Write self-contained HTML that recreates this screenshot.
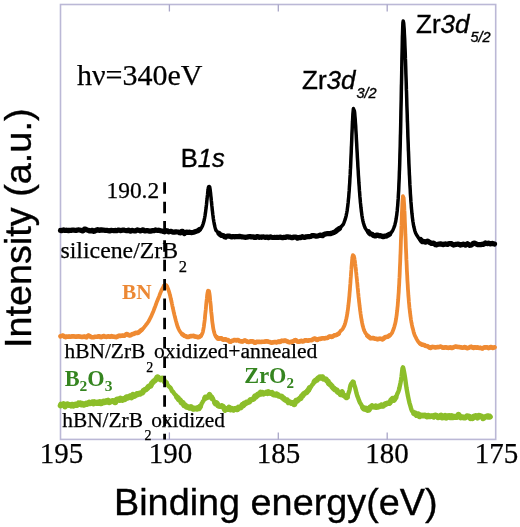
<!DOCTYPE html>
<html><head><meta charset="utf-8"><title>XPS spectra</title>
<style>
html,body{margin:0;padding:0;background:#fff;}
body{width:520px;height:527px;overflow:hidden;}
svg{display:block;}
</style></head>
<body>
<svg width="520" height="527" viewBox="0 0 520 527">
<rect x="0" y="0" width="520" height="527" fill="#fff"/>
<rect x="60.5" y="4.5" width="435.2" height="434.9" fill="none" stroke="#bbb8d6" stroke-width="1.6"/>
<g stroke="#a9a6c8" stroke-width="1.3">
<line x1="169.4" y1="4.5" x2="169.4" y2="11.5"/><line x1="278.3" y1="4.5" x2="278.3" y2="11.5"/><line x1="387.2" y1="4.5" x2="387.2" y2="11.5"/>
<line x1="169.4" y1="432.4" x2="169.4" y2="439.4"/><line x1="278.3" y1="432.4" x2="278.3" y2="439.4"/><line x1="387.2" y1="432.4" x2="387.2" y2="439.4"/>
</g>

<path d="M60.5 405.6L61.0 404.4L61.5 404.5L62.0 404.8L62.5 404.7L63.0 404.3L63.5 403.9L64.0 404.2L64.5 405.5L65.0 406.7L65.5 406.0L66.0 404.8L66.5 404.6L67.0 404.2L67.5 404.1L68.0 404.6L68.5 405.0L69.0 405.2L69.5 405.3L70.0 405.0L70.5 405.2L71.0 405.8L71.5 405.4L72.0 404.6L72.5 404.6L73.0 405.5L73.5 405.8L74.0 405.0L74.5 404.7L75.0 404.8L75.5 404.3L76.0 404.4L76.5 405.1L77.0 405.1L77.5 404.9L78.0 404.0L78.5 403.3L79.0 403.9L79.5 403.6L80.0 403.2L80.5 404.2L81.0 404.6L81.5 403.8L82.0 403.5L82.5 403.8L83.0 404.5L83.5 405.0L84.0 404.9L84.5 404.6L85.0 404.6L85.5 403.8L86.0 403.4L86.5 404.0L87.0 404.2L87.5 403.6L88.0 403.3L88.5 402.9L89.0 402.5L89.5 403.4L90.0 403.5L90.5 402.7L91.0 402.7L91.5 403.0L92.0 402.9L92.5 402.1L93.0 402.3L93.5 403.6L94.0 403.3L94.5 402.0L95.0 402.2L95.5 402.8L96.0 403.1L96.5 403.2L97.0 402.7L97.5 402.3L98.0 402.6L98.5 403.1L99.0 402.9L99.5 401.9L100.0 401.9L100.5 403.1L101.0 403.5L101.5 403.3L102.0 403.2L102.5 402.6L103.0 401.7L103.5 401.3L104.0 401.8L104.5 402.2L105.0 401.4L105.5 401.1L106.0 401.6L106.5 402.0L107.0 401.8L107.5 400.7L108.0 400.4L108.5 401.5L109.0 402.4L109.5 402.3L110.0 401.6L110.5 401.3L111.0 401.3L111.5 401.4L112.0 401.3L112.5 400.8L113.0 400.8L113.5 401.0L114.0 401.1L114.5 401.6L115.0 402.4L115.5 402.4L116.0 401.0L116.5 399.5L117.0 399.3L117.5 399.8L118.0 399.5L118.5 399.1L119.0 400.0L119.5 400.2L120.0 398.8L120.5 398.3L121.0 398.6L121.5 399.1L122.0 399.9L122.5 400.1L123.0 399.3L123.5 398.9L124.0 399.1L124.5 399.4L125.0 399.3L125.5 398.5L126.0 397.5L126.5 397.0L127.0 397.3L127.5 398.0L128.0 397.8L128.5 396.8L129.0 396.6L129.5 396.6L130.0 396.0L130.5 395.8L131.0 396.9L131.5 397.5L132.0 396.4L132.5 395.2L133.0 394.6L133.5 394.8L134.0 395.7L134.5 396.1L135.0 395.7L135.5 395.4L136.0 395.3L136.5 394.7L137.0 393.9L137.5 394.1L138.0 394.3L138.5 393.9L139.0 393.5L139.5 393.4L140.0 393.6L140.5 393.8L141.0 393.2L141.5 392.8L142.0 392.8L142.5 392.7L143.0 391.8L143.5 390.6L144.0 390.3L144.5 390.0L145.0 389.6L145.5 389.7L146.0 389.5L146.5 388.9L147.0 388.5L147.5 388.1L148.0 387.2L148.5 386.6L149.0 386.3L149.5 386.0L150.0 386.2L150.5 386.0L151.0 385.2L151.5 384.0L152.0 383.0L152.5 382.6L153.0 382.2L153.5 381.4L154.0 380.9L154.5 380.8L155.0 380.5L155.5 379.9L156.0 379.3L156.5 378.4L157.0 377.6L157.5 377.1L158.0 377.2L158.5 378.1L159.0 378.7L159.5 378.7L160.0 379.1L160.5 379.5L161.0 379.1L161.5 378.7L162.0 378.3L162.5 378.4L163.0 379.1L163.5 379.6L164.0 380.5L164.5 381.5L165.0 382.2L165.5 382.4L166.0 382.7L166.5 383.4L167.0 384.0L167.5 384.6L168.0 385.4L168.5 386.0L169.0 386.5L169.5 387.0L170.0 387.4L170.5 387.9L171.0 388.7L171.5 389.8L172.0 391.1L172.5 391.7L173.0 391.7L173.5 392.5L174.0 393.3L174.5 393.9L175.0 394.7L175.5 395.0L176.0 395.3L176.5 396.2L177.0 397.2L177.5 397.6L178.0 398.1L178.5 399.1L179.0 399.7L179.5 399.7L180.0 400.1L180.5 400.8L181.0 401.7L181.5 402.7L182.0 402.8L182.5 402.5L183.0 402.9L183.5 404.2L184.0 405.3L184.5 405.1L185.0 405.1L185.5 405.6L186.0 406.3L186.5 406.9L187.0 406.7L187.5 406.8L188.0 407.2L188.5 407.1L189.0 407.2L189.5 408.0L190.0 407.9L190.5 407.3L191.0 406.9L191.5 407.2L192.0 408.2L192.5 408.8L193.0 408.9L193.5 409.0L194.0 408.7L194.5 408.4L195.0 408.6L195.5 408.5L196.0 408.3L196.5 408.6L197.0 408.8L197.5 408.1L198.0 407.7L198.5 408.2L199.0 408.4L199.5 407.5L200.0 406.8L200.5 406.6L201.0 405.6L201.5 404.1L202.0 403.1L202.5 402.2L203.0 401.2L203.5 400.7L204.0 399.9L204.5 398.9L205.0 398.1L205.5 397.2L206.0 397.3L206.5 397.6L207.0 397.2L207.5 397.1L208.0 396.9L208.5 396.6L209.0 395.7L209.5 394.8L210.0 395.7L210.5 396.6L211.0 396.8L211.5 397.3L212.0 398.3L212.5 398.6L213.0 398.9L213.5 400.0L214.0 401.2L214.5 401.9L215.0 402.9L215.5 403.6L216.0 403.4L216.5 403.0L217.0 403.4L217.5 404.5L218.0 405.5L218.5 405.9L219.0 406.0L219.5 406.0L220.0 406.2L220.5 406.3L221.0 406.1L221.5 405.8L222.0 405.9L222.5 406.4L223.0 406.6L223.5 407.2L224.0 408.0L224.5 409.0L225.0 410.1L225.5 409.6L226.0 408.7L226.5 409.1L227.0 409.1L227.5 409.0L228.0 409.2L228.5 408.1L229.0 407.5L229.5 408.6L230.0 409.5L230.5 409.7L231.0 408.9L231.5 408.7L232.0 409.4L232.5 409.0L233.0 409.2L233.5 409.9L234.0 409.3L234.5 408.8L235.0 409.0L235.5 408.9L236.0 408.5L236.5 408.7L237.0 409.4L237.5 409.5L238.0 408.3L238.5 407.5L239.0 407.8L239.5 407.7L240.0 407.6L240.5 407.7L241.0 407.5L241.5 406.6L242.0 405.6L242.5 404.6L243.0 404.9L243.5 405.3L244.0 404.5L244.5 403.4L245.0 403.2L245.5 403.5L246.0 403.1L246.5 402.4L247.0 402.6L247.5 402.6L248.0 402.1L248.5 401.8L249.0 401.9L249.5 401.4L250.0 400.4L250.5 399.8L251.0 399.8L251.5 399.7L252.0 399.4L252.5 399.3L253.0 399.2L253.5 399.0L254.0 398.4L254.5 397.1L255.0 396.2L255.5 396.5L256.0 396.7L256.5 396.2L257.0 395.6L257.5 394.9L258.0 394.2L258.5 394.1L259.0 394.5L259.5 394.0L260.0 392.9L260.5 392.4L261.0 393.1L261.5 393.8L262.0 393.2L262.5 392.7L263.0 393.4L263.5 393.8L264.0 393.4L264.5 393.3L265.0 393.2L265.5 393.0L266.0 392.6L266.5 392.4L267.0 392.9L267.5 393.3L268.0 392.9L268.5 391.9L269.0 392.4L269.5 392.9L270.0 392.5L270.5 392.7L271.0 393.2L271.5 393.0L272.0 392.7L272.5 393.2L273.0 394.2L273.5 394.6L274.0 394.3L274.5 394.3L275.0 394.8L275.5 394.9L276.0 394.2L276.5 394.1L277.0 394.6L277.5 394.7L278.0 395.0L278.5 395.8L279.0 396.0L279.5 396.0L280.0 396.2L280.5 396.2L281.0 396.5L281.5 396.4L282.0 396.8L282.5 397.9L283.0 398.1L283.5 398.0L284.0 398.6L284.5 399.3L285.0 399.6L285.5 400.0L286.0 400.4L286.5 400.1L287.0 400.0L287.5 400.8L288.0 401.8L288.5 402.5L289.0 402.5L289.5 402.1L290.0 402.1L290.5 402.5L291.0 402.7L291.5 403.2L292.0 403.3L292.5 402.7L293.0 402.7L293.5 403.3L294.0 404.4L294.5 404.3L295.0 402.9L295.5 401.5L296.0 400.7L296.5 401.1L297.0 401.0L297.5 400.5L298.0 400.2L298.5 399.4L299.0 399.1L299.5 398.8L300.0 398.3L300.5 398.4L301.0 397.9L301.5 396.5L302.0 395.8L302.5 395.9L303.0 395.2L303.5 394.2L304.0 393.8L304.5 393.4L305.0 393.1L305.5 392.8L306.0 392.5L306.5 392.4L307.0 391.8L307.5 391.0L308.0 390.5L308.5 390.0L309.0 388.9L309.5 387.9L310.0 387.6L310.5 387.3L311.0 386.8L311.5 385.9L312.0 385.0L312.5 384.6L313.0 384.0L313.5 383.0L314.0 382.1L314.5 381.5L315.0 380.9L315.5 380.5L316.0 380.1L316.5 380.1L317.0 380.0L317.5 379.0L318.0 378.3L318.5 378.3L319.0 378.0L319.5 377.2L320.0 377.0L320.5 377.6L321.0 377.9L321.5 377.5L322.0 377.0L322.5 377.1L323.0 378.2L323.5 378.9L324.0 378.9L324.5 378.9L325.0 379.0L325.5 379.0L326.0 379.4L326.5 380.1L327.0 380.8L327.5 381.1L328.0 381.5L328.5 382.9L329.0 383.7L329.5 383.8L330.0 384.2L330.5 384.9L331.0 385.2L331.5 385.6L332.0 386.5L332.5 387.2L333.0 387.8L333.5 388.2L334.0 388.4L334.5 389.1L335.0 389.7L335.5 389.7L336.0 389.8L336.5 390.0L337.0 390.4L337.5 391.7L338.0 392.3L338.5 392.4L339.0 392.7L339.5 392.5L340.0 393.1L340.5 394.3L341.0 394.0L341.5 392.3L342.0 391.9L342.5 393.5L343.0 395.0L343.5 395.1L344.0 395.4L344.5 395.8L345.0 395.8L345.5 396.4L346.0 397.2L346.5 397.5L347.0 397.2L347.5 396.4L348.0 395.0L348.5 393.2L349.0 391.8L349.5 390.0L350.0 387.5L350.5 385.2L351.0 384.2L351.5 384.0L352.0 383.8L352.5 383.2L353.0 382.2L353.5 382.8L354.0 384.1L354.5 385.6L355.0 387.2L355.5 388.9L356.0 391.0L356.5 393.2L357.0 395.0L357.5 396.4L358.0 397.6L358.5 399.0L359.0 400.4L359.5 401.7L360.0 402.8L360.5 403.5L361.0 404.2L361.5 405.2L362.0 406.3L362.5 407.1L363.0 407.7L363.5 408.4L364.0 408.8L364.5 408.4L365.0 408.4L365.5 409.2L366.0 409.3L366.5 408.8L367.0 409.7L367.5 410.1L368.0 409.3L368.5 409.2L369.0 409.7L369.5 408.8L370.0 407.4L370.5 407.2L371.0 407.2L371.5 406.4L372.0 405.9L372.5 406.5L373.0 406.7L373.5 406.6L374.0 406.9L374.5 406.9L375.0 406.4L375.5 406.1L376.0 406.8L376.5 407.2L377.0 406.9L377.5 407.0L378.0 406.6L378.5 406.4L379.0 406.6L379.5 406.3L380.0 406.2L380.5 406.1L381.0 405.6L381.5 405.0L382.0 405.2L382.5 406.0L383.0 405.9L383.5 405.4L384.0 405.2L384.5 404.9L385.0 404.1L385.5 403.8L386.0 404.0L386.5 403.7L387.0 403.4L387.5 403.3L388.0 403.0L388.5 403.0L389.0 403.3L389.5 403.1L390.0 402.4L390.5 401.4L391.0 400.3L391.5 399.7L392.0 399.2L392.5 398.7L393.0 398.9L393.5 399.8L394.0 400.1L394.5 399.3L395.0 398.3L395.5 397.8L396.0 397.3L396.5 396.2L397.0 394.6L397.5 393.4L398.0 392.5L398.5 391.2L399.0 389.6L399.5 387.6L400.0 385.3L400.5 382.9L401.0 380.2L401.5 377.0L402.0 372.7L402.5 368.3L403.0 367.4L403.5 369.2L404.0 371.7L404.5 374.5L405.0 377.4L405.5 380.8L406.0 384.6L406.5 388.0L407.0 390.8L407.5 393.5L408.0 396.3L408.5 398.6L409.0 400.9L409.5 403.1L410.0 404.7L410.5 406.4L411.0 408.2L411.5 409.7L412.0 411.0L412.5 411.4L413.0 411.6L413.5 412.4L414.0 413.5L414.5 413.7L415.0 413.2L415.5 413.4L416.0 414.5L416.5 415.1L417.0 414.5L417.5 414.6L418.0 414.9L418.5 414.1L419.0 414.9L419.5 416.5L420.0 416.1L420.5 415.3L421.0 415.4L421.5 415.7L422.0 415.4L422.5 415.6L423.0 415.7L423.5 415.5L424.0 415.7L424.5 415.2L425.0 415.2L425.5 415.7L426.0 415.9L426.5 416.4L427.0 416.6L427.5 416.0L428.0 415.6L428.5 415.6L429.0 416.0L429.5 416.5L430.0 416.4L430.5 416.4L431.0 416.1L431.5 416.0L432.0 416.2L432.5 416.0L433.0 416.5L433.5 416.9L434.0 416.2L434.5 415.6L435.0 415.4L435.5 415.3L436.0 415.4L436.5 415.7L437.0 416.1L437.5 416.9L438.0 417.5L438.5 417.3L439.0 417.0L439.5 416.7L440.0 416.2L440.5 415.6L441.0 415.4L441.5 416.6L442.0 417.7L442.5 417.3L443.0 417.0L443.5 417.4L444.0 416.8L444.5 415.9L445.0 415.6L445.5 415.8L446.0 416.9L446.5 417.8L447.0 417.0L447.5 416.0L448.0 416.1L448.5 416.1L449.0 415.9L449.5 416.7L450.0 417.4L450.5 417.4L451.0 417.0L451.5 415.9L452.0 416.0L452.5 417.5L453.0 417.5L453.5 416.5L454.0 416.6L454.5 417.2L455.0 417.3L455.5 417.1L456.0 416.8L456.5 417.0L457.0 417.1L457.5 416.5L458.0 415.1L458.5 414.6L459.0 415.3L459.5 415.9L460.0 416.9L460.5 417.5L461.0 417.2L461.5 416.9L462.0 417.3L462.5 417.5L463.0 417.2L463.5 417.5L464.0 417.7L464.5 417.8L465.0 417.7L465.5 417.3L466.0 417.1L466.5 416.5L467.0 416.0L467.5 416.3L468.0 416.7L468.5 416.6L469.0 416.4L469.5 416.7L470.0 417.8L470.5 418.4L471.0 418.1L471.5 418.1L472.0 418.4L472.5 418.4L473.0 417.2L473.5 416.6L474.0 417.4L474.5 417.1L475.0 416.2L475.5 415.9L476.0 415.9L476.5 416.2L477.0 416.8L477.5 417.7L478.0 417.3L478.5 415.8L479.0 415.5L479.5 415.7L480.0 415.7L480.5 416.4L481.0 416.7L481.5 416.4L482.0 416.6L482.5 417.5L483.0 418.4L483.5 418.2L484.0 417.7L484.5 417.3L485.0 416.9L485.5 416.8L486.0 416.8L486.5 416.8L487.0 416.2L487.5 416.1L488.0 416.9L488.5 416.9L489.0 416.2L489.5 416.3L490.0 416.9" fill="none" stroke="#8cbe2a" stroke-width="4.4" stroke-linejoin="round" stroke-linecap="round"/>
<path d="M60.5 405.6L61.0 404.4L61.5 404.5L62.0 404.8L62.5 404.7L63.0 404.3L63.5 403.9L64.0 404.2L64.5 405.5L65.0 406.7L65.5 406.0L66.0 404.8L66.5 404.6L67.0 404.2L67.5 404.1L68.0 404.6L68.5 405.0L69.0 405.2L69.5 405.3L70.0 405.0L70.5 405.2L71.0 405.8L71.5 405.4L72.0 404.6L72.5 404.6L73.0 405.5L73.5 405.8L74.0 405.0L74.5 404.7L75.0 404.8L75.5 404.3L76.0 404.4L76.5 405.1L77.0 405.1L77.5 404.9L78.0 404.0L78.5 403.3L79.0 403.9L79.5 403.6L80.0 403.2L80.5 404.2L81.0 404.6L81.5 403.8L82.0 403.5L82.5 403.8L83.0 404.5L83.5 405.0L84.0 404.9L84.5 404.6L85.0 404.6L85.5 403.8L86.0 403.4L86.5 404.0L87.0 404.2L87.5 403.6L88.0 403.3L88.5 402.9L89.0 402.5L89.5 403.4L90.0 403.5L90.5 402.7L91.0 402.7L91.5 403.0L92.0 402.9L92.5 402.1L93.0 402.3L93.5 403.6L94.0 403.3L94.5 402.0L95.0 402.2L95.5 402.8L96.0 403.1L96.5 403.2L97.0 402.7L97.5 402.3L98.0 402.6L98.5 403.1L99.0 402.9L99.5 401.9L100.0 401.9L100.5 403.1L101.0 403.5L101.5 403.3L102.0 403.2L102.5 402.6L103.0 401.7L103.5 401.3L104.0 401.8L104.5 402.2L105.0 401.4L105.5 401.1L106.0 401.6L106.5 402.0L107.0 401.8L107.5 400.7L108.0 400.4L108.5 401.5L109.0 402.4L109.5 402.3L110.0 401.6L110.5 401.3L111.0 401.3L111.5 401.4L112.0 401.3L112.5 400.8L113.0 400.8L113.5 401.0L114.0 401.1L114.5 401.6L115.0 402.4L115.5 402.4L116.0 401.0L116.5 399.5L117.0 399.3L117.5 399.8L118.0 399.5L118.5 399.1L119.0 400.0L119.5 400.2L120.0 398.8L120.5 398.3L121.0 398.6L121.5 399.1L122.0 399.9L122.5 400.1L123.0 399.3L123.5 398.9L124.0 399.1L124.5 399.4L125.0 399.3L125.5 398.5L126.0 397.5L126.5 397.0L127.0 397.3L127.5 398.0L128.0 397.8L128.5 396.8L129.0 396.6L129.5 396.6L130.0 396.0L130.5 395.8L131.0 396.9L131.5 397.5L132.0 396.4L132.5 395.2L133.0 394.6L133.5 394.8L134.0 395.7L134.5 396.1L135.0 395.7L135.5 395.4L136.0 395.3L136.5 394.7L137.0 393.9L137.5 394.1L138.0 394.3L138.5 393.9L139.0 393.5L139.5 393.4L140.0 393.6L140.5 393.8L141.0 393.2L141.5 392.8L142.0 392.8L142.5 392.7L143.0 391.8L143.5 390.6L144.0 390.3L144.5 390.0L145.0 389.6L145.5 389.7L146.0 389.5L146.5 388.9L147.0 388.5L147.5 388.1L148.0 387.2L148.5 386.6L149.0 386.3L149.5 386.0L150.0 386.2L150.5 386.0L151.0 385.2L151.5 384.0L152.0 383.0L152.5 382.6L153.0 382.2L153.5 381.4L154.0 380.9L154.5 380.8L155.0 380.5L155.5 379.9L156.0 379.3L156.5 378.4L157.0 377.6L157.5 377.1L158.0 377.2L158.5 378.1L159.0 378.7L159.5 378.7L160.0 379.1L160.5 379.5L161.0 379.1L161.5 378.7L162.0 378.3L162.5 378.4L163.0 379.1L163.5 379.6 M164.5 381.5L165.0 382.2L165.5 382.4L166.0 382.7 M177.0 397.2L177.5 397.6L178.0 398.1L178.5 399.1L179.0 399.7L179.5 399.7L180.0 400.1L180.5 400.8L181.0 401.7L181.5 402.7L182.0 402.8L182.5 402.5L183.0 402.9L183.5 404.2L184.0 405.3L184.5 405.1L185.0 405.1L185.5 405.6L186.0 406.3L186.5 406.9L187.0 406.7L187.5 406.8L188.0 407.2L188.5 407.1L189.0 407.2L189.5 408.0L190.0 407.9L190.5 407.3L191.0 406.9L191.5 407.2L192.0 408.2L192.5 408.8L193.0 408.9L193.5 409.0L194.0 408.7L194.5 408.4L195.0 408.6L195.5 408.5L196.0 408.3L196.5 408.6L197.0 408.8L197.5 408.1L198.0 407.7L198.5 408.2L199.0 408.4L199.5 407.5L200.0 406.8 M205.0 398.1L205.5 397.2L206.0 397.3L206.5 397.6L207.0 397.2L207.5 397.1L208.0 396.9L208.5 396.6L209.0 395.7L209.5 394.8L210.0 395.7L210.5 396.6L211.0 396.8L211.5 397.3L212.0 398.3 M215.0 402.9L215.5 403.6L216.0 403.4L216.5 403.0L217.0 403.4L217.5 404.5L218.0 405.5L218.5 405.9L219.0 406.0L219.5 406.0L220.0 406.2L220.5 406.3L221.0 406.1L221.5 405.8L222.0 405.9L222.5 406.4L223.0 406.6L223.5 407.2L224.0 408.0L224.5 409.0L225.0 410.1L225.5 409.6L226.0 408.7L226.5 409.1L227.0 409.1L227.5 409.0L228.0 409.2L228.5 408.1L229.0 407.5L229.5 408.6L230.0 409.5L230.5 409.7L231.0 408.9L231.5 408.7L232.0 409.4L232.5 409.0L233.0 409.2L233.5 409.9L234.0 409.3L234.5 408.8L235.0 409.0L235.5 408.9L236.0 408.5L236.5 408.7L237.0 409.4L237.5 409.5L238.0 408.3L238.5 407.5L239.0 407.8L239.5 407.7L240.0 407.6L240.5 407.7L241.0 407.5L241.5 406.6L242.0 405.6L242.5 404.6L243.0 404.9L243.5 405.3L244.0 404.5L244.5 403.4L245.0 403.2L245.5 403.5L246.0 403.1L246.5 402.4L247.0 402.6L247.5 402.6L248.0 402.1L248.5 401.8L249.0 401.9L249.5 401.4L250.0 400.4L250.5 399.8L251.0 399.8L251.5 399.7L252.0 399.4L252.5 399.3L253.0 399.2L253.5 399.0L254.0 398.4L254.5 397.1L255.0 396.2L255.5 396.5L256.0 396.7L256.5 396.2L257.0 395.6L257.5 394.9L258.0 394.2L258.5 394.1L259.0 394.5L259.5 394.0L260.0 392.9L260.5 392.4L261.0 393.1L261.5 393.8L262.0 393.2L262.5 392.7L263.0 393.4L263.5 393.8L264.0 393.4L264.5 393.3L265.0 393.2L265.5 393.0L266.0 392.6L266.5 392.4L267.0 392.9L267.5 393.3L268.0 392.9L268.5 391.9L269.0 392.4L269.5 392.9L270.0 392.5L270.5 392.7L271.0 393.2L271.5 393.0L272.0 392.7L272.5 393.2L273.0 394.2L273.5 394.6L274.0 394.3L274.5 394.3L275.0 394.8L275.5 394.9L276.0 394.2L276.5 394.1L277.0 394.6L277.5 394.7L278.0 395.0L278.5 395.8L279.0 396.0L279.5 396.0L280.0 396.2L280.5 396.2L281.0 396.5L281.5 396.4L282.0 396.8L282.5 397.9L283.0 398.1L283.5 398.0L284.0 398.6L284.5 399.3L285.0 399.6L285.5 400.0L286.0 400.4L286.5 400.1L287.0 400.0L287.5 400.8L288.0 401.8L288.5 402.5L289.0 402.5L289.5 402.1L290.0 402.1L290.5 402.5L291.0 402.7L291.5 403.2L292.0 403.3L292.5 402.7L293.0 402.7L293.5 403.3L294.0 404.4L294.5 404.3L295.0 402.9L295.5 401.5L296.0 400.7L296.5 401.1L297.0 401.0L297.5 400.5L298.0 400.2L298.5 399.4L299.0 399.1L299.5 398.8L300.0 398.3L300.5 398.4L301.0 397.9L301.5 396.5L302.0 395.8L302.5 395.9L303.0 395.2L303.5 394.2L304.0 393.8L304.5 393.4L305.0 393.1L305.5 392.8L306.0 392.5L306.5 392.4L307.0 391.8L307.5 391.0L308.0 390.5L308.5 390.0L309.0 388.9L309.5 387.9 M314.5 381.5L315.0 380.9L315.5 380.5L316.0 380.1L316.5 380.1L317.0 380.0L317.5 379.0L318.0 378.3L318.5 378.3L319.0 378.0L319.5 377.2L320.0 377.0L320.5 377.6L321.0 377.9L321.5 377.5L322.0 377.0L322.5 377.1L323.0 378.2L323.5 378.9L324.0 378.9L324.5 378.9L325.0 379.0L325.5 379.0L326.0 379.4L326.5 380.1L327.0 380.8L327.5 381.1L328.0 381.5L328.5 382.9L329.0 383.7L329.5 383.8L330.0 384.2L330.5 384.9L331.0 385.2L331.5 385.6L332.0 386.5L332.5 387.2L333.0 387.8L333.5 388.2L334.0 388.4L334.5 389.1L335.0 389.7L335.5 389.7L336.0 389.8L336.5 390.0L337.0 390.4L337.5 391.7L338.0 392.3L338.5 392.4L339.0 392.7L339.5 392.5L340.0 393.1L340.5 394.3L341.0 394.0L341.5 392.3L342.0 391.9L342.5 393.5L343.0 395.0L343.5 395.1L344.0 395.4L344.5 395.8L345.0 395.8L345.5 396.4L346.0 397.2L346.5 397.5L347.0 397.2 M352.0 383.8L352.5 383.2L353.0 382.2 M363.0 407.7L363.5 408.4L364.0 408.8L364.5 408.4L365.0 408.4L365.5 409.2L366.0 409.3L366.5 408.8L367.0 409.7L367.5 410.1L368.0 409.3L368.5 409.2L369.0 409.7L369.5 408.8L370.0 407.4L370.5 407.2L371.0 407.2L371.5 406.4L372.0 405.9L372.5 406.5L373.0 406.7L373.5 406.6L374.0 406.9L374.5 406.9L375.0 406.4L375.5 406.1L376.0 406.8L376.5 407.2L377.0 406.9L377.5 407.0L378.0 406.6L378.5 406.4L379.0 406.6L379.5 406.3L380.0 406.2L380.5 406.1L381.0 405.6L381.5 405.0L382.0 405.2L382.5 406.0L383.0 405.9L383.5 405.4L384.0 405.2L384.5 404.9L385.0 404.1L385.5 403.8L386.0 404.0L386.5 403.7L387.0 403.4L387.5 403.3L388.0 403.0L388.5 403.0L389.0 403.3L389.5 403.1L390.0 402.4L390.5 401.4L391.0 400.3L391.5 399.7L392.0 399.2L392.5 398.7L393.0 398.9L393.5 399.8L394.0 400.1L394.5 399.3L395.0 398.3L395.5 397.8 M414.0 413.5L414.5 413.7L415.0 413.2L415.5 413.4L416.0 414.5L416.5 415.1L417.0 414.5L417.5 414.6L418.0 414.9L418.5 414.1L419.0 414.9L419.5 416.5L420.0 416.1L420.5 415.3L421.0 415.4L421.5 415.7L422.0 415.4L422.5 415.6L423.0 415.7L423.5 415.5L424.0 415.7L424.5 415.2L425.0 415.2L425.5 415.7L426.0 415.9L426.5 416.4L427.0 416.6L427.5 416.0L428.0 415.6L428.5 415.6L429.0 416.0L429.5 416.5L430.0 416.4L430.5 416.4L431.0 416.1L431.5 416.0L432.0 416.2L432.5 416.0L433.0 416.5L433.5 416.9L434.0 416.2L434.5 415.6L435.0 415.4L435.5 415.3L436.0 415.4L436.5 415.7L437.0 416.1L437.5 416.9L438.0 417.5L438.5 417.3L439.0 417.0L439.5 416.7L440.0 416.2L440.5 415.6L441.0 415.4L441.5 416.6L442.0 417.7L442.5 417.3L443.0 417.0L443.5 417.4L444.0 416.8L444.5 415.9L445.0 415.6L445.5 415.8L446.0 416.9L446.5 417.8L447.0 417.0L447.5 416.0L448.0 416.1L448.5 416.1L449.0 415.9L449.5 416.7L450.0 417.4L450.5 417.4L451.0 417.0L451.5 415.9L452.0 416.0L452.5 417.5L453.0 417.5L453.5 416.5L454.0 416.6L454.5 417.2L455.0 417.3L455.5 417.1L456.0 416.8L456.5 417.0L457.0 417.1L457.5 416.5L458.0 415.1L458.5 414.6L459.0 415.3L459.5 415.9L460.0 416.9L460.5 417.5L461.0 417.2L461.5 416.9L462.0 417.3L462.5 417.5L463.0 417.2L463.5 417.5L464.0 417.7L464.5 417.8L465.0 417.7L465.5 417.3L466.0 417.1L466.5 416.5L467.0 416.0L467.5 416.3L468.0 416.7L468.5 416.6L469.0 416.4L469.5 416.7L470.0 417.8L470.5 418.4L471.0 418.1L471.5 418.1L472.0 418.4L472.5 418.4L473.0 417.2L473.5 416.6L474.0 417.4L474.5 417.1L475.0 416.2L475.5 415.9L476.0 415.9L476.5 416.2L477.0 416.8L477.5 417.7L478.0 417.3L478.5 415.8L479.0 415.5L479.5 415.7L480.0 415.7L480.5 416.4L481.0 416.7L481.5 416.4L482.0 416.6L482.5 417.5L483.0 418.4L483.5 418.2L484.0 417.7L484.5 417.3L485.0 416.9L485.5 416.8L486.0 416.8L486.5 416.8L487.0 416.2L487.5 416.1L488.0 416.9L488.5 416.9L489.0 416.2L489.5 416.3L490.0 416.9" fill="none" stroke="#8cbe2a" stroke-width="5.6" stroke-linejoin="round" stroke-linecap="round"/>
<path d="M60.5 336.3L61.5 336.1L62.5 335.6L63.5 335.7L64.5 336.8L65.5 337.1L66.5 336.6L67.5 336.7L68.5 336.6L69.5 336.5L70.5 336.7L71.5 336.5L72.5 336.2L73.5 336.3L74.5 336.5L75.5 336.7L76.5 336.6L77.5 336.5L78.5 336.4L79.5 336.5L80.5 336.8L81.5 336.9L82.5 336.9L83.5 336.7L84.5 336.5L85.5 337.1L86.5 337.3L87.5 336.1L88.5 335.5L89.5 336.0L90.5 336.7L91.5 337.1L92.5 337.2L93.5 337.2L94.5 336.9L95.5 336.8L96.5 336.8L97.5 336.8L98.5 336.3L99.5 336.3L100.5 337.0L101.5 337.2L102.5 336.5L103.5 336.0L104.5 336.4L105.5 336.8L106.5 336.9L107.5 336.6L108.5 336.3L109.5 336.7L110.5 336.7L111.5 336.1L112.5 336.4L113.5 336.8L114.5 336.7L115.5 337.0L116.5 337.2L117.5 336.5L118.5 335.8L119.5 335.7L120.5 335.9L121.5 335.8L122.5 335.6L123.5 335.7L124.5 335.6L125.5 334.9L126.5 334.1L127.5 334.3L128.5 335.0L129.5 335.4L130.5 335.2L131.5 334.6L132.5 334.1L133.5 334.0L134.5 333.5L135.5 332.8L136.5 332.8L137.5 333.0L138.5 332.5L139.5 331.6L140.5 330.7L141.5 329.9L142.5 329.2L143.5 328.1L144.5 326.8L145.5 325.6L146.5 324.2L147.5 323.0L148.5 321.5L149.5 319.6L150.5 317.7L151.5 315.6L152.5 313.3L153.5 310.9L153.9 309.8L154.4 308.6L154.9 307.2L155.4 305.9L155.9 304.5L156.4 303.1L156.9 301.7L157.4 300.5L157.9 299.4L158.4 298.1L158.9 296.9L159.4 295.7L159.9 294.2L160.4 292.9L160.9 291.8L161.4 290.6L161.9 289.5L162.5 288.4L163.2 287.2L164.2 285.9L165.2 285.5L166.2 285.6L167.2 286.7L167.9 288.5L168.4 289.8L168.9 291.2L169.4 292.9L169.9 294.9L170.2 295.9L170.4 297.1L170.7 298.1L170.9 299.1L171.2 300.2L171.4 301.3L171.7 302.4L171.9 303.6L172.2 304.8L172.4 306.1L172.7 307.3L172.9 308.3L173.2 309.5L173.4 310.7L173.7 311.9L173.9 312.9L174.2 313.9L174.4 314.9L174.7 316.0L174.9 317.0L175.2 318.1L175.5 319.2L175.9 320.8L176.4 322.6L176.9 324.4L177.4 326.0L178.5 328.7L179.5 330.8L180.5 332.3L181.5 333.5L182.5 334.4L183.5 335.1L184.5 335.8L185.5 336.2L186.5 336.6L187.5 337.0L188.5 337.0L189.5 336.5L190.5 336.0L191.5 336.1L192.5 336.0L193.5 335.9L194.5 336.4L195.5 336.6L196.5 336.7L197.5 337.1L198.5 337.2L199.5 336.7L200.5 336.1L201.5 335.3L202.2 333.8L202.8 332.2L203.0 331.3L203.2 330.1L203.5 328.6L203.8 327.1L204.0 325.5L204.2 323.7L204.5 321.7L204.8 319.4L205.0 317.0L205.2 314.6L205.5 312.0L205.8 309.4L206.0 306.8L206.2 304.1L206.5 301.5L206.8 299.0L207.0 296.8L207.2 294.8L207.5 293.0L207.8 291.6L208.0 290.7L209.0 291.1L209.2 292.2L209.5 293.8L209.8 295.9L210.0 298.2L210.2 300.7L210.5 303.3L210.8 306.0L211.0 308.8L211.2 311.5L211.5 314.0L211.8 316.4L212.0 318.8L212.2 321.1L212.5 323.2L212.8 325.1L213.0 326.7L213.2 328.2L213.5 329.6L213.8 330.9L214.0 331.8L214.5 333.5L215.0 335.0L215.8 336.4L216.8 337.3L217.8 338.5L218.8 338.8L219.8 338.2L221.5 338.4L222.5 339.3L223.5 339.7L224.5 339.3L225.5 339.3L226.5 339.9L227.5 340.0L228.5 340.4L229.5 341.6L230.5 341.8L231.5 341.1L232.5 340.7L233.5 340.4L234.5 340.0L235.5 340.3L236.5 340.4L237.5 340.0L238.5 340.3L239.5 341.0L240.5 341.3L241.5 341.4L242.5 341.5L243.5 341.0L244.5 340.5L245.5 340.6L246.5 341.2L247.5 341.8L248.5 341.9L249.5 341.7L250.5 341.4L251.5 341.3L252.5 341.3L253.5 341.7L254.5 342.7L255.5 342.6L256.5 341.9L257.5 341.8L258.5 341.9L259.5 341.9L260.5 342.0L261.5 341.9L262.5 341.8L263.5 341.8L264.5 341.7L265.5 341.4L266.5 341.2L267.5 341.4L268.5 341.7L269.5 341.9L270.5 342.3L271.5 342.7L272.5 342.5L273.5 342.2L274.5 342.0L275.5 342.0L276.5 342.4L277.5 342.1L278.5 341.5L279.5 341.9L280.5 341.7L281.5 340.7L282.5 340.8L283.5 341.0L284.5 340.6L285.5 340.6L286.5 341.1L287.5 341.5L288.5 342.1L289.5 342.3L290.5 341.9L291.5 341.7L292.5 341.6L293.5 341.1L294.5 340.5L295.5 340.1L296.5 340.6L297.5 341.5L298.5 341.8L299.5 341.6L300.5 341.0L301.5 340.9L302.5 341.4L303.5 341.3L304.5 340.6L305.5 340.2L306.5 340.3L307.5 340.7L308.5 340.6L309.5 340.2L310.5 340.2L311.5 340.1L312.5 339.6L313.5 339.0L314.5 338.6L315.5 338.8L316.5 339.7L317.5 339.9L318.5 339.0L319.5 338.9L320.5 338.9L321.5 338.5L322.5 338.3L323.5 338.3L324.5 338.4L325.5 338.1L326.5 338.0L327.5 337.9L328.5 337.2L329.5 336.5L330.5 336.6L331.5 336.9L332.5 336.5L333.5 335.9L334.5 335.3L335.5 335.2L336.5 334.9L337.5 334.4L338.5 333.8L339.5 332.5L340.5 331.0L341.5 330.1L342.4 329.3L343.1 328.2L343.9 326.7L344.4 325.5L344.9 324.2L345.4 322.5L345.9 320.5L346.1 319.5L346.4 318.4L346.6 317.2L346.9 316.0L347.1 314.6L347.4 313.1L347.6 311.4L347.9 309.6L348.1 307.7L348.4 305.6L348.5 304.3L348.9 301.1L349.1 298.5L349.4 295.8L349.5 294.1L349.6 292.9L349.9 289.8L350.1 286.5L350.4 283.2L350.5 281.1L350.6 279.8L350.9 276.2L351.1 272.6L351.4 269.2L351.5 267.2L351.6 265.9L351.9 262.8L352.1 260.1L352.4 257.8L352.5 256.7L352.9 255.1L353.9 256.1L354.4 258.2L354.6 259.6L354.9 261.4L355.1 263.3L355.4 265.2L355.5 266.4L355.9 269.6L356.1 272.0L356.4 274.4L356.5 275.9L356.6 276.9L356.9 279.4L357.1 281.9L357.4 284.5L357.5 286.1L357.6 287.2L357.9 289.7L358.1 292.2L358.4 294.8L358.5 296.2L358.9 299.5L359.1 301.8L359.4 304.0L359.5 305.3L359.9 308.2L360.1 310.2L360.4 312.1L360.5 313.2L360.9 315.7L361.1 317.4L361.4 318.9L361.6 320.3L361.9 321.6L362.1 322.9L362.4 324.1L362.6 325.3L362.9 326.2L363.4 328.1L363.9 329.7L364.4 331.0L364.9 332.0L365.5 333.1L366.5 334.5L367.5 335.8L368.5 336.6L369.5 337.4L370.5 338.3L371.5 338.2L372.5 338.0L373.5 338.1L374.5 338.5L375.5 338.8L376.5 338.9L377.5 339.3L378.5 339.1L379.5 338.7L380.5 338.7L381.5 339.1L382.5 339.4L383.5 338.7L384.5 337.6L385.5 337.1L386.5 336.9L387.5 336.8L388.5 336.2L389.5 335.4L390.5 334.7L391.4 333.8L392.2 332.6L392.9 330.8L393.4 329.6L393.9 328.2L394.4 326.5L394.9 324.6L395.2 323.7L395.4 322.6L395.7 321.3L395.9 319.9L396.2 318.4L396.4 316.7L396.7 314.9L396.9 312.8L397.2 310.6L397.4 308.2L397.7 305.6L397.9 302.7L398.2 299.5L398.4 296.1L398.7 292.3L398.9 288.2L399.2 283.6L399.4 278.7L399.5 277.7L399.7 273.4L399.9 267.7L400.2 261.6L400.4 255.1L400.5 253.8L400.7 248.3L400.9 241.3L401.2 234.1L401.4 226.9L401.5 225.4L401.7 219.8L401.9 213.2L402.2 207.3L402.4 202.3L402.7 198.6L402.9 196.2L403.7 198.1L403.9 201.3L404.2 205.4L404.4 210.4L404.5 211.5L404.7 216.0L404.9 222.1L405.2 228.5L405.4 235.0L405.5 236.3L405.7 241.4L405.9 247.8L406.2 254.0L406.4 259.9L406.5 261.0L406.7 265.5L406.9 270.7L407.2 275.7L407.4 280.3L407.7 284.6L407.9 288.6L408.2 292.4L408.4 295.8L408.7 299.0L408.9 302.0L409.2 304.9L409.4 307.4L409.7 309.7L409.9 311.9L410.2 313.9L410.4 315.9L410.7 317.7L410.9 319.3L411.2 321.0L411.4 322.4L411.7 323.6L411.9 324.9L412.2 326.1L412.4 327.3L412.7 328.2L413.2 330.1L413.5 331.4L413.9 332.9L414.4 334.4L414.9 335.7L415.5 336.8L416.5 338.9L417.5 340.7L418.5 342.1L419.5 343.1L420.5 343.8L421.5 344.4L422.5 344.8L423.5 344.9L424.5 345.2L425.5 345.8L426.5 346.1L427.5 346.3L428.5 346.8L429.5 347.5L430.5 347.9L431.5 347.4L432.5 346.9L433.5 347.1L434.5 347.3L435.5 347.4L436.5 347.2L437.5 347.0L438.5 347.1L439.5 346.9L440.5 346.6L441.5 346.9L442.5 347.5L443.5 347.8L444.5 347.4L445.5 347.2L446.5 347.5L447.5 347.8L448.5 347.9L449.5 347.6L450.5 347.4L451.5 347.9L452.5 347.9L453.5 347.3L454.5 346.9L455.5 346.6L456.5 346.7L457.5 346.9L458.5 347.0L459.5 347.1L460.5 347.2L461.5 347.5L462.5 347.7L463.5 347.5L464.5 347.1L465.5 347.2L466.5 348.0L467.5 348.2L468.5 347.8L469.5 347.4L470.5 346.9L471.5 346.7L472.5 347.5L473.5 347.9L474.5 347.4L475.5 347.4L476.5 347.7L477.5 347.4L478.5 347.7L479.5 347.9L480.5 347.7L481.5 348.2L482.5 348.5L483.5 347.7L484.5 347.4L485.5 347.5L486.5 347.2L487.5 347.4L488.5 348.1L489.5 347.8L490.5 347.0L491.5 347.3L492.5 347.9L493.5 347.7L494.5 347.3" fill="none" stroke="#ef8a32" stroke-width="3.8" stroke-linejoin="round" stroke-linecap="round"/>
<path d="M60.5 336.3L61.5 336.1L62.5 335.6L63.5 335.7L64.5 336.8L65.5 337.1L66.5 336.6L67.5 336.7L68.5 336.6L69.5 336.5L70.5 336.7L71.5 336.5L72.5 336.2L73.5 336.3L74.5 336.5L75.5 336.7L76.5 336.6L77.5 336.5L78.5 336.4L79.5 336.5L80.5 336.8L81.5 336.9L82.5 336.9L83.5 336.7L84.5 336.5L85.5 337.1L86.5 337.3L87.5 336.1L88.5 335.5L89.5 336.0L90.5 336.7L91.5 337.1L92.5 337.2L93.5 337.2L94.5 336.9L95.5 336.8L96.5 336.8L97.5 336.8L98.5 336.3L99.5 336.3L100.5 337.0L101.5 337.2L102.5 336.5L103.5 336.0L104.5 336.4L105.5 336.8L106.5 336.9L107.5 336.6L108.5 336.3L109.5 336.7L110.5 336.7L111.5 336.1L112.5 336.4L113.5 336.8L114.5 336.7L115.5 337.0L116.5 337.2L117.5 336.5L118.5 335.8L119.5 335.7L120.5 335.9L121.5 335.8L122.5 335.6L123.5 335.7L124.5 335.6L125.5 334.9L126.5 334.1L127.5 334.3L128.5 335.0L129.5 335.4L130.5 335.2L131.5 334.6L132.5 334.1L133.5 334.0L134.5 333.5L135.5 332.8L136.5 332.8L137.5 333.0L138.5 332.5L139.5 331.6L140.5 330.7L141.5 329.9 M164.2 285.9L165.2 285.5L166.2 285.6 M182.5 334.4L183.5 335.1L184.5 335.8L185.5 336.2L186.5 336.6L187.5 337.0L188.5 337.0L189.5 336.5L190.5 336.0L191.5 336.1L192.5 336.0L193.5 335.9L194.5 336.4L195.5 336.6L196.5 336.7L197.5 337.1L198.5 337.2L199.5 336.7L200.5 336.1 M216.8 337.3L217.8 338.5L218.8 338.8L219.8 338.2L221.5 338.4L222.5 339.3L223.5 339.7L224.5 339.3L225.5 339.3L226.5 339.9L227.5 340.0L228.5 340.4L229.5 341.6L230.5 341.8L231.5 341.1L232.5 340.7L233.5 340.4L234.5 340.0L235.5 340.3L236.5 340.4L237.5 340.0L238.5 340.3L239.5 341.0L240.5 341.3L241.5 341.4L242.5 341.5L243.5 341.0L244.5 340.5L245.5 340.6L246.5 341.2L247.5 341.8L248.5 341.9L249.5 341.7L250.5 341.4L251.5 341.3L252.5 341.3L253.5 341.7L254.5 342.7L255.5 342.6L256.5 341.9L257.5 341.8L258.5 341.9L259.5 341.9L260.5 342.0L261.5 341.9L262.5 341.8L263.5 341.8L264.5 341.7L265.5 341.4L266.5 341.2L267.5 341.4L268.5 341.7L269.5 341.9L270.5 342.3L271.5 342.7L272.5 342.5L273.5 342.2L274.5 342.0L275.5 342.0L276.5 342.4L277.5 342.1L278.5 341.5L279.5 341.9L280.5 341.7L281.5 340.7L282.5 340.8L283.5 341.0L284.5 340.6L285.5 340.6L286.5 341.1L287.5 341.5L288.5 342.1L289.5 342.3L290.5 341.9L291.5 341.7L292.5 341.6L293.5 341.1L294.5 340.5L295.5 340.1L296.5 340.6L297.5 341.5L298.5 341.8L299.5 341.6L300.5 341.0L301.5 340.9L302.5 341.4L303.5 341.3L304.5 340.6L305.5 340.2L306.5 340.3L307.5 340.7L308.5 340.6L309.5 340.2L310.5 340.2L311.5 340.1L312.5 339.6L313.5 339.0L314.5 338.6L315.5 338.8L316.5 339.7L317.5 339.9L318.5 339.0L319.5 338.9L320.5 338.9L321.5 338.5L322.5 338.3L323.5 338.3L324.5 338.4L325.5 338.1L326.5 338.0L327.5 337.9L328.5 337.2L329.5 336.5L330.5 336.6L331.5 336.9L332.5 336.5L333.5 335.9L334.5 335.3L335.5 335.2L336.5 334.9L337.5 334.4L338.5 333.8 M367.5 335.8L368.5 336.6L369.5 337.4L370.5 338.3L371.5 338.2L372.5 338.0L373.5 338.1L374.5 338.5L375.5 338.8L376.5 338.9L377.5 339.3L378.5 339.1L379.5 338.7L380.5 338.7L381.5 339.1L382.5 339.4L383.5 338.7L384.5 337.6L385.5 337.1L386.5 336.9L387.5 336.8L388.5 336.2L389.5 335.4 M420.5 343.8L421.5 344.4L422.5 344.8L423.5 344.9L424.5 345.2L425.5 345.8L426.5 346.1L427.5 346.3L428.5 346.8L429.5 347.5L430.5 347.9L431.5 347.4L432.5 346.9L433.5 347.1L434.5 347.3L435.5 347.4L436.5 347.2L437.5 347.0L438.5 347.1L439.5 346.9L440.5 346.6L441.5 346.9L442.5 347.5L443.5 347.8L444.5 347.4L445.5 347.2L446.5 347.5L447.5 347.8L448.5 347.9L449.5 347.6L450.5 347.4L451.5 347.9L452.5 347.9L453.5 347.3L454.5 346.9L455.5 346.6L456.5 346.7L457.5 346.9L458.5 347.0L459.5 347.1L460.5 347.2L461.5 347.5L462.5 347.7L463.5 347.5L464.5 347.1L465.5 347.2L466.5 348.0L467.5 348.2L468.5 347.8L469.5 347.4L470.5 346.9L471.5 346.7L472.5 347.5L473.5 347.9L474.5 347.4L475.5 347.4L476.5 347.7L477.5 347.4L478.5 347.7L479.5 347.9L480.5 347.7L481.5 348.2L482.5 348.5L483.5 347.7L484.5 347.4L485.5 347.5L486.5 347.2L487.5 347.4L488.5 348.1L489.5 347.8L490.5 347.0L491.5 347.3L492.5 347.9L493.5 347.7L494.5 347.3" fill="none" stroke="#ef8a32" stroke-width="4.6" stroke-linejoin="round" stroke-linecap="round"/>
<path d="M60.5 230.5L61.5 230.7L62.5 230.2L63.5 229.9L64.5 230.4L65.5 230.5L66.5 230.2L67.5 230.4L68.5 230.6L69.5 230.4L70.5 230.4L71.5 230.3L72.5 230.0L73.5 230.0L74.5 230.2L75.5 230.4L76.5 230.4L77.5 230.0L78.5 229.9L79.5 230.0L80.5 230.2L81.5 230.5L82.5 231.0L83.5 230.4L84.5 229.1L85.5 229.0L86.5 229.8L87.5 230.2L88.5 230.4L89.5 230.9L90.5 231.0L91.5 230.3L92.5 230.4L93.5 231.3L94.5 231.2L95.5 230.7L96.5 230.0L97.5 229.7L98.5 230.2L99.5 230.3L100.5 229.8L101.5 229.9L102.5 230.1L103.5 230.0L104.5 230.2L105.5 230.5L106.5 230.4L107.5 230.4L108.5 230.8L109.5 231.0L110.5 230.6L111.5 230.4L112.5 230.5L113.5 230.6L114.5 230.5L115.5 230.4L116.5 230.7L117.5 230.4L118.5 230.0L119.5 230.2L120.5 230.6L121.5 230.5L122.5 230.0L123.5 230.0L124.5 230.3L125.5 230.5L126.5 230.7L127.5 230.6L128.5 230.1L129.5 230.6L130.5 231.1L131.5 230.6L132.5 230.4L133.5 230.8L134.5 231.0L135.5 230.9L136.5 230.4L137.5 229.9L138.5 230.2L139.5 230.6L140.5 230.9L141.5 230.5L142.5 229.8L143.5 230.0L144.5 230.9L145.5 231.0L146.5 230.5L147.5 230.6L148.5 230.9L149.5 231.1L150.5 231.1L151.5 230.9L152.5 230.6L153.5 230.7L154.5 230.6L155.5 229.9L156.5 230.2L157.5 230.4L158.5 230.2L159.5 230.4L160.5 230.7L161.5 231.0L162.5 231.1L163.5 231.5L164.5 231.8L165.5 231.4L166.5 230.7L167.5 230.9L168.5 231.8L169.5 231.7L170.5 231.3L171.5 231.6L172.5 231.9L173.5 232.2L174.5 232.1L175.5 231.9L176.5 231.9L177.5 232.0L178.5 232.1L179.5 232.7L180.5 232.8L181.5 231.6L182.5 231.3L183.5 232.8L184.5 233.5L185.5 232.5L186.5 232.0L187.5 232.5L188.5 232.3L189.5 232.2L190.5 232.5L191.5 232.6L192.5 232.5L193.5 232.3L194.5 232.0L195.5 231.5L196.5 231.2L197.5 230.8L198.5 230.3L199.5 229.5L200.5 228.8L201.3 228.1L202.1 226.7L202.6 225.5L203.1 224.1L203.5 222.8L203.8 221.5L204.1 220.6L204.3 219.4L204.6 218.1L204.8 216.8L205.1 215.3L205.3 213.6L205.5 212.6L205.8 210.1L206.1 208.1L206.3 205.9L206.5 204.5L206.8 201.1L207.1 198.8L207.3 196.4L207.5 194.9L207.8 191.6L208.1 189.6L208.3 188.0L208.6 186.8L209.1 186.5L209.6 186.6L209.8 187.6L210.1 189.2L210.3 191.1L210.5 192.4L210.8 195.6L211.1 198.0L211.3 200.5L211.5 202.0L211.6 203.0L211.8 205.4L212.1 207.9L212.3 210.3L212.5 211.6L212.8 214.5L213.1 216.5L213.3 218.5L213.5 219.5L213.8 221.5L214.1 222.9L214.3 224.2L214.6 225.3L214.8 226.4L215.3 228.3L215.8 229.9L216.3 230.8L217.1 231.5L218.1 232.5L219.1 233.5L220.1 234.6L221.5 235.4L222.5 235.4L223.5 235.7L224.5 236.8L225.5 237.1L226.5 236.3L227.5 236.2L228.5 236.2L229.5 236.1L230.5 236.5L231.5 237.0L232.5 236.6L233.5 236.6L234.5 236.8L235.5 236.7L236.5 236.6L237.5 236.6L238.5 236.6L239.5 236.4L240.5 236.6L241.5 236.8L242.5 236.9L243.5 237.0L244.5 237.2L245.5 237.3L246.5 237.2L247.5 236.9L248.5 236.8L249.5 236.6L250.5 236.7L251.5 237.0L252.5 236.8L253.5 236.8L254.5 237.4L255.5 237.5L256.5 236.8L257.5 236.5L258.5 237.2L259.5 237.3L260.5 237.0L261.5 237.3L262.5 237.0L263.5 236.8L264.5 237.2L265.5 237.4L266.5 237.1L267.5 237.2L268.5 237.7L269.5 237.3L270.5 236.8L271.5 237.3L272.5 237.5L273.5 237.5L274.5 237.4L275.5 237.5L276.5 237.4L277.5 237.4L278.5 237.5L279.5 237.3L280.5 237.1L281.5 237.5L282.5 237.7L283.5 237.4L284.5 237.3L285.5 237.3L286.5 236.8L287.5 236.8L288.5 237.1L289.5 237.0L290.5 237.3L291.5 237.7L292.5 237.7L293.5 237.2L294.5 237.2L295.5 237.1L296.5 237.3L297.5 238.2L298.5 237.7L299.5 237.3L300.5 237.7L301.5 237.2L302.5 236.7L303.5 237.3L304.5 237.5L305.5 236.9L306.5 236.8L307.5 236.7L308.5 236.5L309.5 236.6L310.5 236.5L311.5 235.9L312.5 235.5L313.5 235.6L314.5 235.8L315.5 236.1L316.5 236.2L317.5 236.0L318.5 235.7L319.5 235.3L320.5 235.1L321.5 235.5L322.5 235.7L323.5 234.8L324.5 234.2L325.5 234.1L326.5 233.8L327.5 233.6L328.5 233.6L329.5 233.6L330.5 233.7L331.5 233.2L332.5 232.9L333.5 232.6L334.5 232.1L335.5 231.7L336.5 230.7L337.5 229.8L338.5 229.2L339.5 228.4L340.5 227.3L341.5 226.4L342.4 225.3L343.2 224.5L343.9 222.9L344.4 221.5L344.9 220.1L345.4 218.6L345.9 216.7L346.2 215.6L346.4 214.4L346.7 213.1L346.9 211.8L347.2 210.3L347.4 208.6L347.7 206.6L347.9 204.5L348.2 202.2L348.4 199.7L348.7 197.0L348.9 194.0L349.2 190.7L349.4 187.0L349.7 183.1L349.9 178.9L350.2 174.4L350.4 169.4L350.5 168.4L350.7 164.2L350.9 158.7L351.2 152.9L351.4 146.8L351.5 145.6L351.7 140.7L351.9 134.6L352.2 128.6L352.4 123.0L352.5 122.0L352.7 118.0L352.9 113.8L353.2 110.6L353.4 108.6L354.4 110.9L354.7 113.1L354.9 115.8L355.2 118.9L355.4 122.4L355.7 126.2L355.9 130.4L356.2 134.8L356.4 139.2L356.7 143.8L356.9 148.4L357.2 153.1L357.4 157.7L357.7 162.2L357.9 166.6L358.2 170.9L358.4 175.1L358.7 179.1L358.9 183.0L359.2 186.7L359.4 190.2L359.7 193.5L359.9 196.7L360.2 199.7L360.4 202.4L360.7 204.9L360.9 207.3L361.2 209.5L361.4 211.6L361.7 213.6L361.9 215.3L362.2 216.8L362.4 218.3L362.7 219.7L362.9 220.9L363.2 221.9L363.4 222.9L363.9 224.6L364.4 226.2L364.9 227.4L365.4 228.4L366.5 230.1L367.5 231.0L368.5 231.8L369.5 233.1L370.5 233.9L371.5 234.0L372.5 234.6L373.5 235.5L374.5 235.8L375.5 235.9L376.5 235.1L377.5 235.0L378.5 235.7L379.5 235.8L380.5 235.7L381.5 236.0L382.5 236.7L383.5 236.7L384.5 236.2L385.5 236.2L386.5 235.9L387.5 235.3L388.5 234.8L389.5 234.2L390.5 233.5L391.4 232.4L392.2 231.3L392.9 230.0L393.4 228.9L393.9 227.7L394.4 226.4L394.9 224.7L395.4 222.7L395.7 221.5L395.9 220.2L396.2 218.6L396.4 217.0L396.7 215.3L396.9 213.3L397.2 211.0L397.4 208.4L397.7 205.6L397.9 202.4L398.2 198.7L398.4 194.6L398.7 189.8L398.9 184.4L399.2 178.4L399.4 171.6L399.5 170.1L399.7 164.0L399.9 155.5L400.2 146.1L400.4 135.8L400.5 133.6L400.7 124.5L400.9 112.4L401.2 99.6L401.4 86.3L401.5 83.6L401.7 72.8L401.9 59.6L402.2 47.2L402.4 36.5L402.5 34.6L402.7 28.1L402.9 22.8L403.2 21.0L403.7 23.2L403.9 25.9L404.2 29.5L404.4 34.0L404.7 39.3L404.9 45.2L405.2 51.8L405.4 58.9L405.5 60.3L405.7 66.3L405.9 74.0L406.2 81.9L406.4 89.9L406.5 91.5L406.7 98.0L406.9 106.0L407.2 113.9L407.4 121.7L407.5 123.2L407.7 129.3L407.9 136.7L408.2 143.7L408.4 150.6L408.5 151.9L408.7 157.1L408.9 163.4L409.2 169.3L409.4 174.8L409.5 175.9L409.7 180.1L409.9 184.9L410.2 189.5L410.4 193.8L410.7 197.8L410.9 201.4L411.2 204.7L411.4 207.8L411.7 210.6L411.9 213.3L412.2 215.6L412.4 217.8L412.7 219.8L412.9 221.5L413.2 223.0L413.4 224.6L413.7 226.0L413.9 227.1L414.2 228.1L414.5 229.4L414.9 231.0L415.5 232.7L416.5 234.8L417.5 236.3L418.5 237.9L419.5 238.8L420.5 239.4L421.5 240.9L422.5 241.7L423.5 241.3L424.5 241.7L425.5 242.2L426.5 241.5L427.5 241.1L428.5 241.6L429.5 242.3L430.5 242.8L431.5 243.4L432.5 243.3L433.5 243.1L434.5 243.9L435.5 244.7L436.5 244.8L437.5 244.4L438.5 244.2L439.5 244.1L440.5 243.9L441.5 244.1L442.5 244.4L443.5 244.6L444.5 244.3L445.5 243.8L446.5 244.2L447.5 244.4L448.5 243.8L449.5 243.6L450.5 243.5L451.5 243.6L452.5 244.5L453.5 245.1L454.5 244.8L455.5 244.4L456.5 244.3L457.5 244.2L458.5 244.2L459.5 244.7L460.5 245.1L461.5 244.8L462.5 244.3L463.5 244.2L464.5 244.6L465.5 245.1L466.5 244.4L467.5 243.7L468.5 244.5L469.5 245.3L470.5 245.2L471.5 244.9L472.5 244.2L473.5 243.2L474.5 243.0L475.5 243.5L476.5 244.2L477.5 244.6L478.5 244.7L479.5 244.6L480.5 244.7L481.5 244.4L482.5 244.2L483.5 244.4L484.5 243.7L485.5 242.9L486.5 243.5L487.5 243.6L488.5 243.1L489.5 243.6L490.5 243.9L491.5 243.5L492.5 243.4L493.5 243.8L494.5 244.1" fill="none" stroke="#000" stroke-width="3.5" stroke-linejoin="round" stroke-linecap="round"/>
<path d="M60.5 230.5L61.5 230.7L62.5 230.2L63.5 229.9L64.5 230.4L65.5 230.5L66.5 230.2L67.5 230.4L68.5 230.6L69.5 230.4L70.5 230.4L71.5 230.3L72.5 230.0L73.5 230.0L74.5 230.2L75.5 230.4L76.5 230.4L77.5 230.0L78.5 229.9L79.5 230.0L80.5 230.2L81.5 230.5L82.5 231.0L83.5 230.4L84.5 229.1L85.5 229.0L86.5 229.8L87.5 230.2L88.5 230.4L89.5 230.9L90.5 231.0L91.5 230.3L92.5 230.4L93.5 231.3L94.5 231.2L95.5 230.7L96.5 230.0L97.5 229.7L98.5 230.2L99.5 230.3L100.5 229.8L101.5 229.9L102.5 230.1L103.5 230.0L104.5 230.2L105.5 230.5L106.5 230.4L107.5 230.4L108.5 230.8L109.5 231.0L110.5 230.6L111.5 230.4L112.5 230.5L113.5 230.6L114.5 230.5L115.5 230.4L116.5 230.7L117.5 230.4L118.5 230.0L119.5 230.2L120.5 230.6L121.5 230.5L122.5 230.0L123.5 230.0L124.5 230.3L125.5 230.5L126.5 230.7L127.5 230.6L128.5 230.1L129.5 230.6L130.5 231.1L131.5 230.6L132.5 230.4L133.5 230.8L134.5 231.0L135.5 230.9L136.5 230.4L137.5 229.9L138.5 230.2L139.5 230.6L140.5 230.9L141.5 230.5L142.5 229.8L143.5 230.0L144.5 230.9L145.5 231.0L146.5 230.5L147.5 230.6L148.5 230.9L149.5 231.1L150.5 231.1L151.5 230.9L152.5 230.6L153.5 230.7L154.5 230.6L155.5 229.9L156.5 230.2L157.5 230.4L158.5 230.2L159.5 230.4L160.5 230.7L161.5 231.0L162.5 231.1L163.5 231.5L164.5 231.8L165.5 231.4L166.5 230.7L167.5 230.9L168.5 231.8L169.5 231.7L170.5 231.3L171.5 231.6L172.5 231.9L173.5 232.2L174.5 232.1L175.5 231.9L176.5 231.9L177.5 232.0L178.5 232.1L179.5 232.7L180.5 232.8L181.5 231.6L182.5 231.3L183.5 232.8L184.5 233.5L185.5 232.5L186.5 232.0L187.5 232.5L188.5 232.3L189.5 232.2L190.5 232.5L191.5 232.6L192.5 232.5L193.5 232.3L194.5 232.0L195.5 231.5L196.5 231.2L197.5 230.8L198.5 230.3L199.5 229.5 M219.1 233.5L220.1 234.6L221.5 235.4L222.5 235.4L223.5 235.7L224.5 236.8L225.5 237.1L226.5 236.3L227.5 236.2L228.5 236.2L229.5 236.1L230.5 236.5L231.5 237.0L232.5 236.6L233.5 236.6L234.5 236.8L235.5 236.7L236.5 236.6L237.5 236.6L238.5 236.6L239.5 236.4L240.5 236.6L241.5 236.8L242.5 236.9L243.5 237.0L244.5 237.2L245.5 237.3L246.5 237.2L247.5 236.9L248.5 236.8L249.5 236.6L250.5 236.7L251.5 237.0L252.5 236.8L253.5 236.8L254.5 237.4L255.5 237.5L256.5 236.8L257.5 236.5L258.5 237.2L259.5 237.3L260.5 237.0L261.5 237.3L262.5 237.0L263.5 236.8L264.5 237.2L265.5 237.4L266.5 237.1L267.5 237.2L268.5 237.7L269.5 237.3L270.5 236.8L271.5 237.3L272.5 237.5L273.5 237.5L274.5 237.4L275.5 237.5L276.5 237.4L277.5 237.4L278.5 237.5L279.5 237.3L280.5 237.1L281.5 237.5L282.5 237.7L283.5 237.4L284.5 237.3L285.5 237.3L286.5 236.8L287.5 236.8L288.5 237.1L289.5 237.0L290.5 237.3L291.5 237.7L292.5 237.7L293.5 237.2L294.5 237.2L295.5 237.1L296.5 237.3L297.5 238.2L298.5 237.7L299.5 237.3L300.5 237.7L301.5 237.2L302.5 236.7L303.5 237.3L304.5 237.5L305.5 236.9L306.5 236.8L307.5 236.7L308.5 236.5L309.5 236.6L310.5 236.5L311.5 235.9L312.5 235.5L313.5 235.6L314.5 235.8L315.5 236.1L316.5 236.2L317.5 236.0L318.5 235.7L319.5 235.3L320.5 235.1L321.5 235.5L322.5 235.7L323.5 234.8L324.5 234.2L325.5 234.1L326.5 233.8L327.5 233.6L328.5 233.6L329.5 233.6L330.5 233.7L331.5 233.2L332.5 232.9L333.5 232.6L334.5 232.1L335.5 231.7L336.5 230.7L337.5 229.8L338.5 229.2L339.5 228.4 M368.5 231.8L369.5 233.1L370.5 233.9L371.5 234.0L372.5 234.6L373.5 235.5L374.5 235.8L375.5 235.9L376.5 235.1L377.5 235.0L378.5 235.7L379.5 235.8L380.5 235.7L381.5 236.0L382.5 236.7L383.5 236.7L384.5 236.2L385.5 236.2L386.5 235.9L387.5 235.3L388.5 234.8L389.5 234.2 M420.5 239.4L421.5 240.9L422.5 241.7L423.5 241.3L424.5 241.7L425.5 242.2L426.5 241.5L427.5 241.1L428.5 241.6L429.5 242.3L430.5 242.8L431.5 243.4L432.5 243.3L433.5 243.1L434.5 243.9L435.5 244.7L436.5 244.8L437.5 244.4L438.5 244.2L439.5 244.1L440.5 243.9L441.5 244.1L442.5 244.4L443.5 244.6L444.5 244.3L445.5 243.8L446.5 244.2L447.5 244.4L448.5 243.8L449.5 243.6L450.5 243.5L451.5 243.6L452.5 244.5L453.5 245.1L454.5 244.8L455.5 244.4L456.5 244.3L457.5 244.2L458.5 244.2L459.5 244.7L460.5 245.1L461.5 244.8L462.5 244.3L463.5 244.2L464.5 244.6L465.5 245.1L466.5 244.4L467.5 243.7L468.5 244.5L469.5 245.3L470.5 245.2L471.5 244.9L472.5 244.2L473.5 243.2L474.5 243.0L475.5 243.5L476.5 244.2L477.5 244.6L478.5 244.7L479.5 244.6L480.5 244.7L481.5 244.4L482.5 244.2L483.5 244.4L484.5 243.7L485.5 242.9L486.5 243.5L487.5 243.6L488.5 243.1L489.5 243.6L490.5 243.9L491.5 243.5L492.5 243.4L493.5 243.8L494.5 244.1" fill="none" stroke="#000" stroke-width="5.2" stroke-linejoin="round" stroke-linecap="round"/>
<line x1="164.6" y1="182.3" x2="164.6" y2="439.5" stroke="#000" stroke-width="2.8" stroke-dasharray="11.5 7.85"/>

<g font-family="'Liberation Serif','Times New Roman',serif" fill="#000" stroke="#000" stroke-width="0.25">
<text x="61.4" y="463" font-size="29" text-anchor="middle">195</text>
<text x="170.5" y="463" font-size="29" text-anchor="middle">190</text>
<text x="278.6" y="463" font-size="29" text-anchor="middle">185</text>
<text x="387" y="463" font-size="29" text-anchor="middle">180</text>
<text x="496.5" y="463" font-size="29" text-anchor="middle">175</text>
<text x="77" y="85" font-size="30">h&#957;=340eV</text>
<text x="106.5" y="198.2" font-size="23.4">190.2</text>
<text x="60.5" y="257.5" font-size="23.8">silicene/ZrB</text>
<text x="178.8" y="272" font-size="16.5">2</text>
<text x="64.5" y="358.2" font-size="21.4">hBN/ZrB</text>
<text x="146.2" y="371.5" font-size="14">2</text>
<text x="154" y="358.2" font-size="21.6">oxidized+annealed</text>
<text x="62.2" y="426.8" font-size="21.4">hBN/ZrB</text>
<text x="144.5" y="439.9" font-size="14">2</text>
<text x="151.2" y="426.8" font-size="21.4">oxidized</text>
</g>
<g font-family="'Liberation Serif','Times New Roman',serif" font-weight="bold">
<text x="122" y="298.8" font-size="21.3" fill="#ec8834">BN</text>
<text x="64.7" y="385.8" font-size="22.3" fill="#358520">B<tspan font-size="15.5" dy="5.2">2</tspan><tspan dy="-5.2">O</tspan><tspan font-size="15.5" dy="5.2">3</tspan></text>
<text x="244.3" y="382.5" font-size="22.3" fill="#358520">ZrO<tspan font-size="15" dy="5.2">2</tspan></text>
</g>
<g font-family="'Liberation Sans',Arial,sans-serif" fill="#000" stroke="#000" stroke-width="0.35">
<text x="180.8" y="166.6" font-size="25.5">B<tspan font-style="italic">1s</tspan></text>
<text x="302" y="89" font-size="26">Zr<tspan font-style="italic">3d</tspan><tspan font-style="italic" font-size="14.5" dx="1" dy="9.4">3/2</tspan></text>
<text x="416" y="32.7" font-size="26">Zr<tspan font-style="italic">3d</tspan><tspan font-style="italic" font-size="14.5" dx="1" dy="9.5">5/2</tspan></text>
<text x="114" y="514.6" font-size="37.8">Binding energy(eV)</text>
<text transform="translate(31.2,348) rotate(-90)" x="0" y="0" font-size="37.8">Intensity (a.u.)</text>
</g>
</svg>
</body></html>
